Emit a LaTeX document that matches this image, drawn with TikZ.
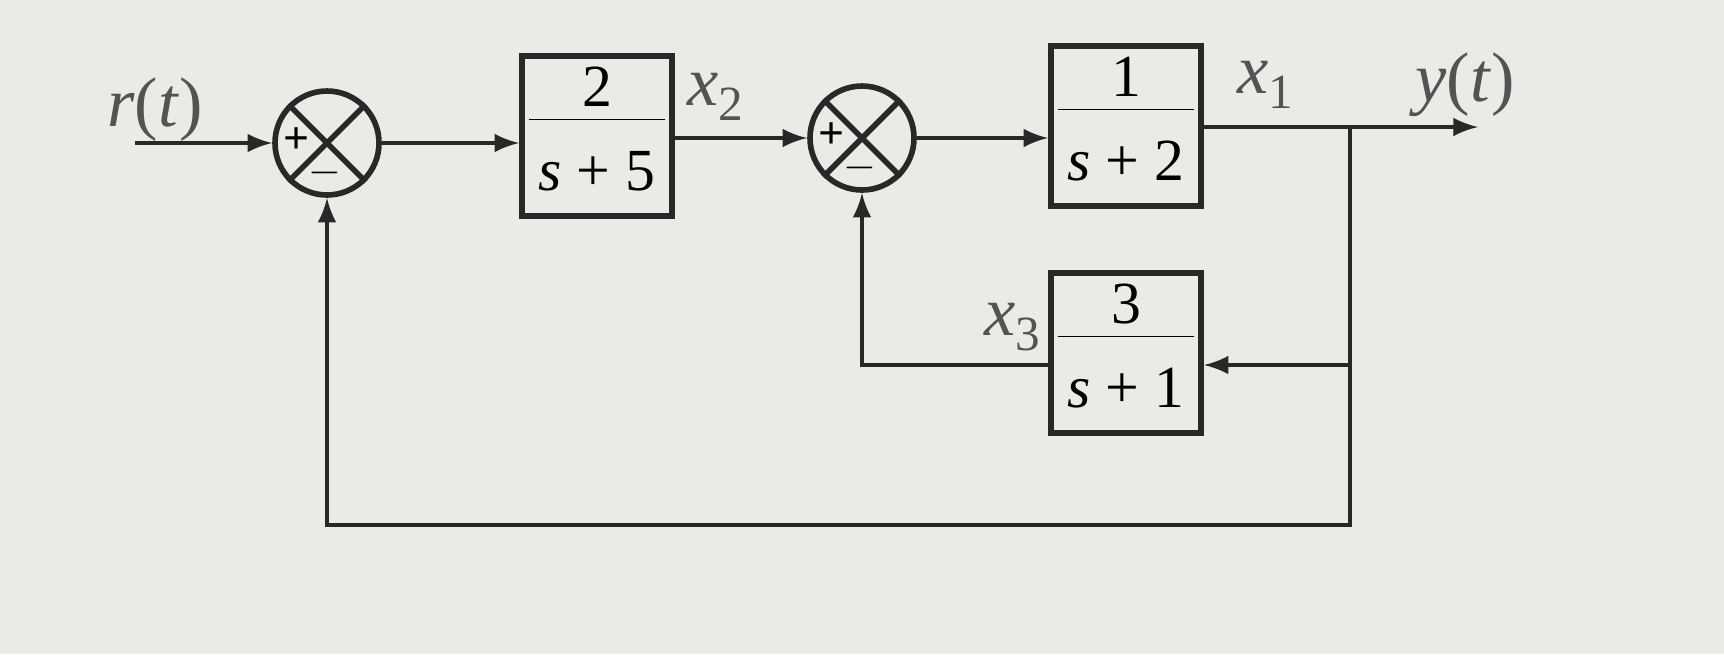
\documentclass[tikz,border=0pt]{standalone}
\usepackage{fontspec}
\setmainfont{Liberation Serif}
\usetikzlibrary{positioning,calc}
\definecolor{paper}{RGB}{234,234,231}
\definecolor{ink}{RGB}{40,40,40}
\tikzstyle{block}=[draw=ink,line width=1.6pt,minimum width=1.5cm,minimum height=1.6cm,inner sep=0pt,font=\fontsize{17}{18}\selectfont]
\tikzstyle{sum}=[draw=ink,line width=1.6pt,circle,minimum size=1.04cm,inner sep=0pt]
\tikzstyle{wire}=[draw=ink,line width=1.4pt]
\tikzstyle{lbl}=[text=ink!80,font=\fontsize{20}{22}\selectfont]
\tikzset{y=-1cm}
\tikzset{x=1cm}
\newcommand{\crossmark}[1]{
  \draw[ink,line width=1.6pt] (#1.north west) -- (#1.south east);
  \draw[ink,line width=1.6pt] (#1.north east) -- (#1.south west);
  \node[font=\bfseries\fontsize{13}{13}\selectfont] at ($(#1.center)+(-0.3,-0.02)$) {+};
  \node[font=\bfseries\fontsize{13}{13}\selectfont] at ($(#1.center)+(-0.02,0.3)$) {$-$};
}
\newcommand{\tf}[2]{\begin{tabular}{@{\,}c@{\,}}#1\\[-2pt]\hline\rule{0pt}{20pt}{\itshape s} + #2\end{tabular}}
\newcommand{\sig}[2]{\textit{#1}\raisebox{-0.45ex}{\fontsize{14}{14}\selectfont #2}}
\begin{document}
\begin{tikzpicture}
  \fill[paper] (0,0) rectangle (17.24,6.54);
  \useasboundingbox (0,0) rectangle (17.24,6.54);
  %% blocks and junctions
  \draw (3.27,1.43) node[sum] (S1) {};
  \draw (5.97,1.36) node[block] (G1) {\tf{2}{5}};
  \draw (8.62,1.38) node[sum] (S2) {};
  \draw (11.26,1.26) node[block] (G2) {\tf{1}{2}};
  \draw (11.26,3.53) node[block] (H1) {\tf{3}{1}};
  \crossmark{S1}
  \crossmark{S2}
  \coordinate (IN) at (1.35,1.43);
  \coordinate (OUT) at (14.78,1.27);
  \coordinate (BR) at (13.50,1.27);
  %% signals
  \draw[wire,-latex] (IN) -- (S1);
  \draw[wire,-latex] (S1) -- (G1.west |- S1);
  \draw[wire,-latex] (G1.east |- S2) -- (S2);
  \draw[wire,-latex] (S2) -- (G2.west |- S2);
  \draw[wire,-latex] (G2.east |- OUT) -- (OUT);
  \draw[wire,-latex] (BR) |- (H1.east |- 0,3.65);
  \draw[wire,-latex] (H1.west |- 0,3.65) -| (S2.south);
  \draw[wire,-latex] (BR) |- (3.27,5.25) -- (S1.south);
  %% labels
  \draw (1.55,1.1) node[lbl] {\textit{r}(\textit{t})};
  \draw (7.15,0.97) node[lbl] {\sig{x}{2}};
  \draw (12.65,0.85) node[lbl] {\sig{x}{1}};
  \draw (14.65,0.85) node[lbl] {\textit{y}(\textit{t})};
  \draw (10.12,3.27) node[lbl] {\sig{x}{3}};
\end{tikzpicture}
\end{document}
